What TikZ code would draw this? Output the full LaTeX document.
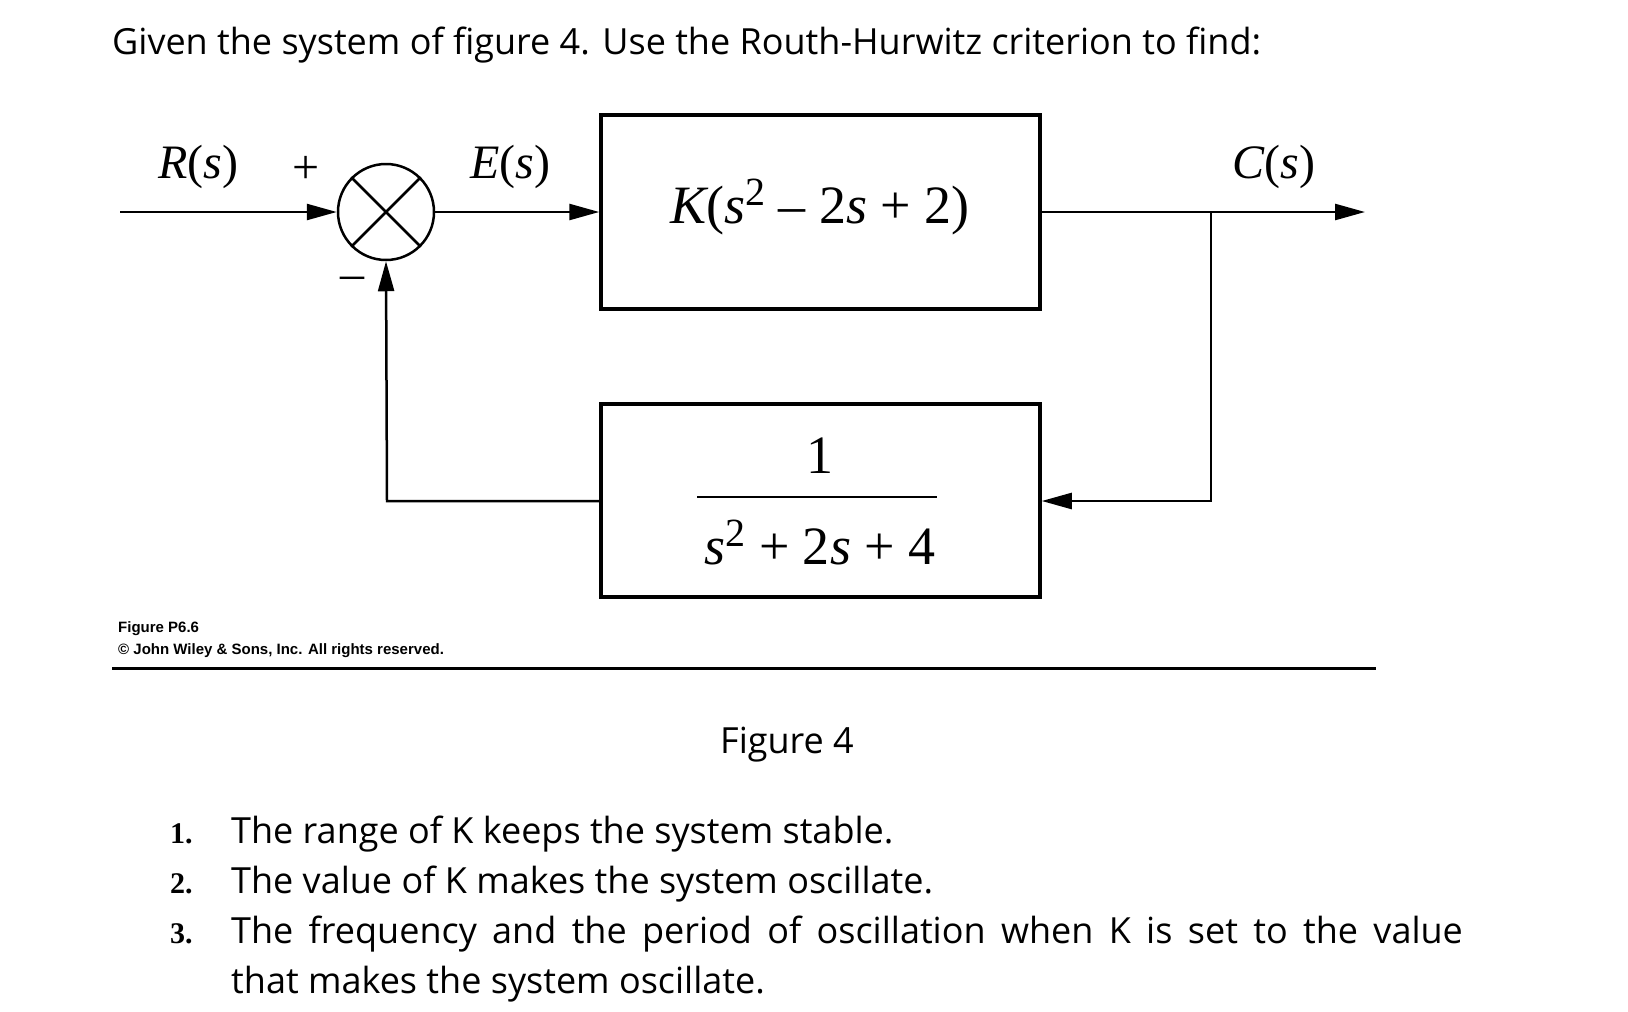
\documentclass[tikz,border=0pt]{standalone}
\usepackage{fontspec}
\setmainfont{Liberation Serif}
\newfontfamily\cf{Open Sans}
\newfontfamily\af{Liberation Sans}
\usetikzlibrary{arrows.meta}
\newcommand{\sqr}{\raisebox{18pt}{\fontsize{40}{42}\selectfont 2}}
\newcommand{\wsp}{\ \hspace{6pt}}
\begin{document}
\begin{tikzpicture}[x=1pt,y=-1pt,
  blk/.style={draw,line width=3.5pt},
  ln/.style={line width=2.5pt},
  arr/.style={ln,-{Triangle[length=30pt,width=16pt]}},
  lab/.style={font=\fontsize{48}{50}\selectfont,inner sep=0},
  big/.style={font=\fontsize{54}{56}\selectfont,inner sep=0},
  txt/.style={font=\cf\fontsize{36}{40}\selectfont,anchor=base west,inner sep=0}]
\useasboundingbox (0,0) rectangle (1628,1012);
\node[txt] (title) at (112,54) {Given the system of figure 4. Use the Routh-Hurwitz criterion to find:};
\node[blk,minimum width=439pt,minimum height=194pt] (g) at (820.5,212) {};
\node[blk,minimum width=439pt,minimum height=193pt] (h) at (820.5,500.5) {};
\node[draw,ln,circle,minimum size=96pt,inner sep=0] (s) at (386,212) {};
\draw[ln] (s.45)--(s.225) (s.135)--(s.315);
\coordinate (in) at (120,212);
\coordinate (out) at (1365,212);
\coordinate (br) at (1211,212);
\coordinate (bb) at (1211,501);
\coordinate (fl) at (387,501);
\draw[arr] (in)--(s.west);
\draw[arr] (s.east)--(g.west);
\draw[arr] (g.east)--(out);
\draw[arr] (br)--(bb)--(h.east|-bb);
\draw[arr] (h.west|-fl)--(fl)--(s.south);
\node[lab] (r) at (198,167) {\itshape R\upshape(\itshape s\upshape)};
\node[lab] (plus) at (306,170) {+};
\node[lab] (minus) at (352,283) {--};
\node[lab] (e) at (510,167) {\itshape E\upshape(\itshape s\upshape)};
\node[lab] (c) at (1274,167) {\itshape C\upshape(\itshape s\upshape)};
\node[big] (k) at (820,207) {\itshape K\upshape(\itshape s\upshape\sqr{} -- 2\itshape s\upshape{} + 2)};
\node[big] (one) at (820,456) {1};
\draw[line width=2.5pt] (697,497)--(937,497);
\node[big] (den) at (820,543) {\itshape s\upshape\sqr{} + 2\itshape s\upshape{} + 4};
\node[font=\af\bfseries\fontsize{15}{18}\selectfont,anchor=base west,inner sep=0] (fp) at (118,632) {Figure P6.6};
\node[font=\af\bfseries\fontsize{15}{18}\selectfont,anchor=base west,inner sep=0] (cp) at (118,654) {\textcopyright\ John Wiley \& Sons, Inc. All rights reserved.};
\draw[line width=3pt] (112,668)--(1376,668);
\node[txt,anchor=base] (f4) at (787,753) {Figure 4};
\foreach \n/\y/\t in {1/843/The range of K keeps the system stable.,2/893/The value of K makes the system oscillate.,3/943/The\wsp frequency\wsp and\wsp the\wsp period\wsp of\wsp oscillation\wsp when\wsp K\wsp is\wsp set\wsp to\wsp the\wsp value}{
  \node[font=\bfseries\fontsize{30}{34}\selectfont,anchor=base west,inner sep=0] (n\n) at (170,\y) {\n.};
  \node[txt] (t\n) at (231,\y) {\t};}
\node[txt] (t4) at (231,993) {that makes the system oscillate.};
\end{tikzpicture}
\end{document}
